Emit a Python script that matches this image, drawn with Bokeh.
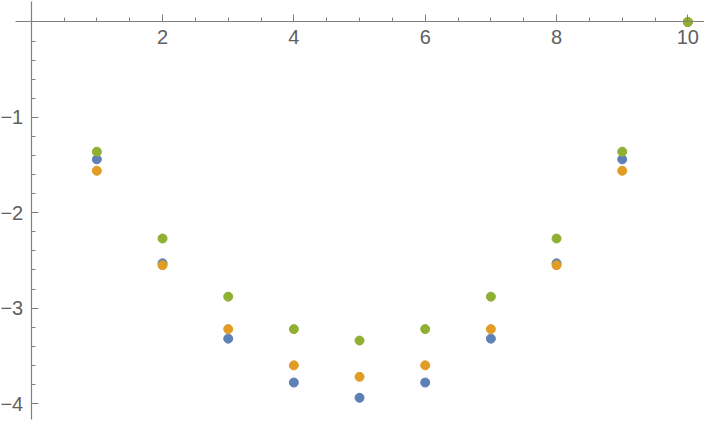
from bokeh.plotting import figure
from bokeh.models import LinearAxis, FixedTicker, CustomJSTickFormatter, Range1d
from bokeh.embed import file_html
from bokeh.resources import INLINE

xs = [1, 2, 3, 4, 5, 6, 7, 8, 9, 10]
blue = [-1.44, -2.53, -3.32, -3.78, -3.94, -3.78, -3.32, -2.53, -1.44, 0.0]
orange = [-1.56, -2.55, -3.22, -3.60, -3.72, -3.60, -3.22, -2.55, -1.56, 0.0]
green = [-1.36, -2.27, -2.88, -3.22, -3.34, -3.22, -2.88, -2.27, -1.36, 0.0]

x_ticks = [2, 4, 6, 8, 10]
x_minor = [0.5 * i for i in range(0, 21)]
y_ticks = [-4, -3, -2, -1]
y_minor = [round(-0.2 * i, 2) for i in range(0, 22)]

p = figure(width=704, height=422, output_backend="svg", toolbar_location=None,
           x_range=Range1d(-0.4675, 10.253), y_range=Range1d(-4.199, 0.2253),
           x_axis_type=None, y_axis_type=None, min_border=0)
p.outline_line_color = None
p.grid.visible = False
p.background_fill_color = "white"

fmt = CustomJSTickFormatter(code="return tick < 0 ? '\\u2212' + Math.abs(tick) : String(tick);")

xa = LinearAxis(fixed_location=0, bounds=(-0.244, 10.25),
                ticker=FixedTicker(ticks=x_ticks, minor_ticks=x_minor), formatter=fmt)
ya = LinearAxis(fixed_location=0, bounds=(-4.17, 0.22),
                ticker=FixedTicker(ticks=y_ticks, minor_ticks=y_minor), formatter=fmt)
for ax in (xa, ya):
    ax.axis_line_color = "#808080"
    ax.axis_line_width = 1.2
    ax.major_tick_line_color = "#808080"
    ax.minor_tick_line_color = "#808080"
    ax.major_tick_in = 7
    ax.major_tick_out = 0
    ax.minor_tick_in = 4
    ax.minor_tick_out = 0
    ax.major_label_text_font = "Liberation Sans"
    ax.major_label_text_font_size = "20px"
    ax.major_label_text_color = "#606060"
    ax.major_label_standoff = 8
p.add_layout(xa, "below")
p.add_layout(ya, "left")

p.scatter(xs, blue, size=9, color="#5E81B5")
p.scatter(xs, orange, size=9, color="#E19C24")
p.scatter(xs, green, size=9, color="#8FB032")

open("out.html", "w").write(file_html(p, INLINE))
